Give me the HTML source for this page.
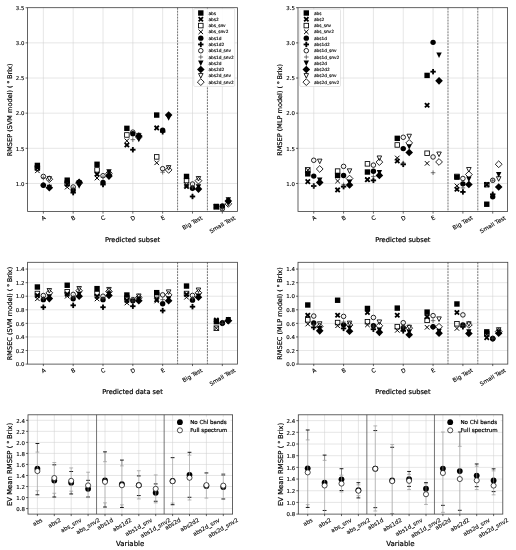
<!DOCTYPE html>
<html lang="en">
<head>
<meta charset="utf-8">
<title>Figure</title>
<style>
html,body{margin:0;padding:0;background:#fff;}
body{width:516px;height:550px;overflow:hidden;}
svg{display:block;}
svg text{font-family:"DejaVu Sans", "Liberation Sans", sans-serif;fill:#000;stroke:#000;stroke-width:0.19px;}
</style>
</head>
<body>
<svg width="516" height="550" viewBox="0 0 516 550">
<rect width="516" height="550" fill="#fff"/>
<path d="M43.35 7.7V211.6M73.18 7.7V211.6M103.01 7.7V211.6M132.84 7.7V211.6M162.67 7.7V211.6M192.5 7.7V211.6M222.33 7.7V211.6M27.6 183.48H237.5M27.6 148.32H237.5M27.6 113.17H237.5M27.6 78.01H237.5M27.6 42.86H237.5" stroke="#d2d2d2" stroke-width="0.55" fill="none"/>
<path d="M177.58 7.7V211.6" stroke="#3a3a3a" stroke-width="0.7" stroke-dasharray="2.05 0.9" fill="none"/>
<path d="M207.41 7.7V211.6" stroke="#3a3a3a" stroke-width="0.7" stroke-dasharray="2.05 0.9" fill="none"/>
<rect x="34.68" y="162.71" width="5.4" height="5.4" fill="#000"/>
<rect x="64.51" y="177.47" width="5.4" height="5.4" fill="#000"/>
<rect x="94.34" y="161.58" width="5.4" height="5.4" fill="#000"/>
<rect x="124.17" y="125.65" width="5.4" height="5.4" fill="#000"/>
<rect x="154" y="112.36" width="5.4" height="5.4" fill="#000"/>
<rect x="183.83" y="173.74" width="5.4" height="5.4" fill="#000"/>
<rect x="213.66" y="203.77" width="5.4" height="5.4" fill="#000"/>
<g transform="translate(37.38 167.66) rotate(45)"><rect x="-3.08" y="-0.92" width="6.16" height="1.84" fill="#000"/><rect x="-0.92" y="-3.08" width="1.84" height="6.16" fill="#000"/></g>
<g transform="translate(67.21 184.18) rotate(45)"><rect x="-3.08" y="-0.92" width="6.16" height="1.84" fill="#000"/><rect x="-0.92" y="-3.08" width="1.84" height="6.16" fill="#000"/></g>
<g transform="translate(97.04 174.34) rotate(45)"><rect x="-3.08" y="-0.92" width="6.16" height="1.84" fill="#000"/><rect x="-0.92" y="-3.08" width="1.84" height="6.16" fill="#000"/></g>
<g transform="translate(126.87 145.02) rotate(45)"><rect x="-3.08" y="-0.92" width="6.16" height="1.84" fill="#000"/><rect x="-0.92" y="-3.08" width="1.84" height="6.16" fill="#000"/></g>
<g transform="translate(156.7 127.93) rotate(45)"><rect x="-3.08" y="-0.92" width="6.16" height="1.84" fill="#000"/><rect x="-0.92" y="-3.08" width="1.84" height="6.16" fill="#000"/></g>
<g transform="translate(186.53 186.43) rotate(45)"><rect x="-3.08" y="-0.92" width="6.16" height="1.84" fill="#000"/><rect x="-0.92" y="-3.08" width="1.84" height="6.16" fill="#000"/></g>
<g transform="translate(216.36 206.54) rotate(45)"><rect x="-3.08" y="-0.92" width="6.16" height="1.84" fill="#000"/><rect x="-0.92" y="-3.08" width="1.84" height="6.16" fill="#000"/></g>
<rect x="35.11" y="165.73" width="4.55" height="4.55" fill="none" stroke="#000" stroke-width="0.85"/>
<rect x="64.94" y="180.85" width="4.55" height="4.55" fill="none" stroke="#000" stroke-width="0.85"/>
<rect x="94.77" y="167.63" width="4.55" height="4.55" fill="none" stroke="#000" stroke-width="0.85"/>
<rect x="124.6" y="132.69" width="4.55" height="4.55" fill="none" stroke="#000" stroke-width="0.85"/>
<rect x="154.43" y="154.62" width="4.55" height="4.55" fill="none" stroke="#000" stroke-width="0.85"/>
<rect x="184.26" y="178.25" width="4.55" height="4.55" fill="none" stroke="#000" stroke-width="0.85"/>
<rect x="214.09" y="204.54" width="4.55" height="4.55" fill="none" stroke="#000" stroke-width="0.85"/>
<path d="M35.12 168.55L39.65 173.09M35.12 173.09L39.65 168.55" stroke="#000" stroke-width="1" fill="none"/>
<path d="M64.95 184.86L69.48 189.4M64.95 189.4L69.48 184.86" stroke="#000" stroke-width="1" fill="none"/>
<path d="M94.78 175.79L99.31 180.33M94.78 180.33L99.31 175.79" stroke="#000" stroke-width="1" fill="none"/>
<path d="M124.61 138.53L129.14 143.07M124.61 143.07L129.14 138.53" stroke="#000" stroke-width="1" fill="none"/>
<path d="M154.44 160.54L158.97 165.07M154.44 165.07L158.97 160.54" stroke="#000" stroke-width="1" fill="none"/>
<path d="M184.27 182.61L188.8 187.15M184.27 187.15L188.8 182.61" stroke="#000" stroke-width="1" fill="none"/>
<path d="M214.1 204.76L218.63 209.3M214.1 209.3L218.63 204.76" stroke="#000" stroke-width="1" fill="none"/>
<circle cx="43.35" cy="185.16" r="2.7" fill="#000"/>
<circle cx="73.18" cy="190.09" r="2.7" fill="#000"/>
<circle cx="103.01" cy="182.42" r="2.7" fill="#000"/>
<circle cx="132.84" cy="133.77" r="2.7" fill="#000"/>
<circle cx="162.67" cy="130.18" r="2.7" fill="#000"/>
<circle cx="192.5" cy="188.19" r="2.7" fill="#000"/>
<circle cx="222.33" cy="205.98" r="2.7" fill="#000"/>
<rect x="40.65" y="184.32" width="5.4" height="1.84" fill="#000"/><rect x="42.43" y="182.53" width="1.84" height="5.4" fill="#000"/>
<rect x="70.48" y="191.7" width="5.4" height="1.84" fill="#000"/><rect x="72.26" y="189.92" width="1.84" height="5.4" fill="#000"/>
<rect x="100.31" y="183.61" width="5.4" height="1.84" fill="#000"/><rect x="102.09" y="181.83" width="1.84" height="5.4" fill="#000"/>
<rect x="130.14" y="148.81" width="5.4" height="1.84" fill="#000"/><rect x="131.92" y="147.03" width="1.84" height="5.4" fill="#000"/>
<rect x="159.97" y="130.88" width="5.4" height="1.84" fill="#000"/><rect x="161.75" y="129.1" width="1.84" height="5.4" fill="#000"/>
<rect x="189.8" y="195.57" width="5.4" height="1.84" fill="#000"/><rect x="191.58" y="193.78" width="1.84" height="5.4" fill="#000"/>
<rect x="219.63" y="205.76" width="5.4" height="1.84" fill="#000"/><rect x="221.41" y="203.98" width="1.84" height="5.4" fill="#000"/>
<circle cx="43.35" cy="176.44" r="2.28" fill="none" stroke="#000" stroke-width="0.85"/>
<circle cx="73.18" cy="186.99" r="2.28" fill="none" stroke="#000" stroke-width="0.85"/>
<circle cx="103.01" cy="175.74" r="2.28" fill="none" stroke="#000" stroke-width="0.85"/>
<circle cx="132.84" cy="132.15" r="2.28" fill="none" stroke="#000" stroke-width="0.85"/>
<circle cx="162.67" cy="168.71" r="2.28" fill="none" stroke="#000" stroke-width="0.85"/>
<circle cx="192.5" cy="184.04" r="2.28" fill="none" stroke="#000" stroke-width="0.85"/>
<circle cx="222.33" cy="208.79" r="2.28" fill="none" stroke="#000" stroke-width="0.85"/>
<path d="M41.05 177.85L45.65 177.85M43.35 175.56L43.35 180.15" stroke="#383838" stroke-width="0.68" fill="none"/>
<path d="M70.89 188.4L75.48 188.4M73.18 186.1L73.18 190.69" stroke="#383838" stroke-width="0.68" fill="none"/>
<path d="M100.71 177.15L105.3 177.15M103.01 174.85L103.01 179.44" stroke="#383838" stroke-width="0.68" fill="none"/>
<path d="M130.55 139.67L135.13 139.67M132.84 137.38L132.84 141.97" stroke="#383838" stroke-width="0.68" fill="none"/>
<path d="M160.38 172.23L164.96 172.23M162.67 169.93L162.67 174.52" stroke="#383838" stroke-width="0.68" fill="none"/>
<path d="M190.2 186.99L194.79 186.99M192.5 184.7L192.5 189.29" stroke="#383838" stroke-width="0.68" fill="none"/>
<path d="M220.03 208.79L224.62 208.79M222.33 206.49L222.33 211.08" stroke="#383838" stroke-width="0.68" fill="none"/>
<path d="M46.62 184.64L52.02 184.64L49.32 190.04Z" fill="#000"/>
<path d="M76.45 183.24L81.85 183.24L79.15 188.64Z" fill="#000"/>
<path d="M106.28 169.24L111.68 169.24L108.98 174.64Z" fill="#000"/>
<path d="M136.11 136.83L141.51 136.83L138.81 142.23Z" fill="#000"/>
<path d="M165.94 115.39L171.34 115.39L168.64 120.79Z" fill="#000"/>
<path d="M195.77 184.29L201.17 184.29L198.47 189.69Z" fill="#000"/>
<path d="M225.6 197.16L231 197.16L228.3 202.56Z" fill="#000"/>
<path d="M49.32 183.89L53.12 187.69L49.32 191.5L45.51 187.69Z" fill="#000"/>
<path d="M79.15 178.47L82.95 182.28L79.15 186.09L75.34 182.28Z" fill="#000"/>
<path d="M108.98 172.29L112.78 176.09L108.98 179.9L105.17 176.09Z" fill="#000"/>
<path d="M138.81 132.14L142.61 135.95L138.81 139.75L135 135.95Z" fill="#000"/>
<path d="M168.64 111.26L172.44 115.06L168.64 118.87L164.83 115.06Z" fill="#000"/>
<path d="M198.47 185.29L202.27 189.1L198.47 192.91L194.66 189.1Z" fill="#000"/>
<path d="M228.3 197.25L232.1 201.05L228.3 204.86L224.49 201.05Z" fill="#000"/>
<path d="M47.04 176.63L51.59 176.63L49.32 181.18Z" fill="none" stroke="#000" stroke-width="0.85" stroke-linejoin="miter"/>
<path d="M76.87 180.5L81.42 180.5L79.15 185.05Z" fill="none" stroke="#000" stroke-width="0.85" stroke-linejoin="miter"/>
<path d="M106.7 172.06L111.25 172.06L108.98 176.61Z" fill="none" stroke="#000" stroke-width="0.85" stroke-linejoin="miter"/>
<path d="M136.53 133.39L141.08 133.39L138.81 137.94Z" fill="none" stroke="#000" stroke-width="0.85" stroke-linejoin="miter"/>
<path d="M166.36 165.59L170.91 165.59L168.64 170.14Z" fill="none" stroke="#000" stroke-width="0.85" stroke-linejoin="miter"/>
<path d="M196.19 176.49L200.74 176.49L198.47 181.04Z" fill="none" stroke="#000" stroke-width="0.85" stroke-linejoin="miter"/>
<path d="M226.02 201.24L230.57 201.24L228.3 205.79Z" fill="none" stroke="#000" stroke-width="0.85" stroke-linejoin="miter"/>
<path d="M49.32 175.88L52.7 179.26L49.32 182.64L45.93 179.26Z" fill="none" stroke="#000" stroke-width="0.85"/>
<path d="M79.15 179.74L82.53 183.12L79.15 186.51L75.76 183.12Z" fill="none" stroke="#000" stroke-width="0.85"/>
<path d="M108.98 170.25L112.36 173.63L108.98 177.01L105.59 173.63Z" fill="none" stroke="#000" stroke-width="0.85"/>
<path d="M138.81 133.69L142.19 137.07L138.81 140.45L135.42 137.07Z" fill="none" stroke="#000" stroke-width="0.85"/>
<path d="M168.64 166.52L172.02 169.91L168.64 173.29L165.25 169.91Z" fill="none" stroke="#000" stroke-width="0.85"/>
<path d="M198.47 177.28L201.85 180.66L198.47 184.05L195.08 180.66Z" fill="none" stroke="#000" stroke-width="0.85"/>
<path d="M228.3 200.48L231.68 203.87L228.3 207.25L224.91 203.87Z" fill="none" stroke="#000" stroke-width="0.85"/>
<rect x="193.8" y="8.7" width="40.9" height="77.7" rx="1.1" fill="#fff" fill-opacity="0.9" stroke="#ccc" stroke-width="0.5"/>
<rect x="198.1" y="10.3" width="5.4" height="5.4" fill="#000"/>
<text x="208.4" y="14.55" font-size="4.3" text-anchor="start" style="stroke-width:0.15px">abs</text>
<g transform="translate(200.8 19.29) rotate(45)"><rect x="-3.08" y="-0.92" width="6.16" height="1.84" fill="#000"/><rect x="-0.92" y="-3.08" width="1.84" height="6.16" fill="#000"/></g>
<text x="208.4" y="20.83" font-size="4.3" text-anchor="start" style="stroke-width:0.15px">abs2</text>
<rect x="198.53" y="23.3" width="4.55" height="4.55" fill="none" stroke="#000" stroke-width="0.85"/>
<text x="208.4" y="27.12" font-size="4.3" text-anchor="start" style="stroke-width:0.15px">abs_snv</text>
<path d="M198.53 29.59L203.07 34.12M198.53 34.12L203.07 29.59" stroke="#000" stroke-width="1" fill="none"/>
<text x="208.4" y="33.4" font-size="4.3" text-anchor="start" style="stroke-width:0.15px">abs_snv2</text>
<circle cx="200.8" cy="38.14" r="2.7" fill="#000"/>
<text x="208.4" y="39.69" font-size="4.3" text-anchor="start" style="stroke-width:0.15px">abs1d</text>
<rect x="198.1" y="43.51" width="5.4" height="1.84" fill="#000"/><rect x="199.88" y="41.72" width="1.84" height="5.4" fill="#000"/>
<text x="208.4" y="45.97" font-size="4.3" text-anchor="start" style="stroke-width:0.15px">abs1d2</text>
<circle cx="200.8" cy="50.71" r="2.28" fill="none" stroke="#000" stroke-width="0.85"/>
<text x="208.4" y="52.26" font-size="4.3" text-anchor="start" style="stroke-width:0.15px">abs1d_snv</text>
<path d="M198.51 57L203.09 57M200.8 54.7L200.8 59.29" stroke="#383838" stroke-width="0.68" fill="none"/>
<text x="208.4" y="58.54" font-size="4.3" text-anchor="start" style="stroke-width:0.15px">abs1d_snv2</text>
<path d="M198.1 60.58L203.5 60.58L200.8 65.98Z" fill="#000"/>
<text x="208.4" y="64.83" font-size="4.3" text-anchor="start" style="stroke-width:0.15px">abs2d</text>
<path d="M200.8 65.76L204.61 69.56L200.8 73.37L196.99 69.56Z" fill="#000"/>
<text x="208.4" y="71.11" font-size="4.3" text-anchor="start" style="stroke-width:0.15px">abs2d2</text>
<path d="M198.53 73.57L203.08 73.57L200.8 78.12Z" fill="none" stroke="#000" stroke-width="0.85" stroke-linejoin="miter"/>
<text x="208.4" y="77.4" font-size="4.3" text-anchor="start" style="stroke-width:0.15px">abs2d_snv</text>
<path d="M200.8 78.75L204.18 82.14L200.8 85.52L197.42 82.14Z" fill="none" stroke="#000" stroke-width="0.85"/>
<text x="208.4" y="83.68" font-size="4.3" text-anchor="start" style="stroke-width:0.15px">abs2d_snv2</text>
<rect x="27.6" y="7.7" width="209.9" height="203.9" fill="none" stroke="#3c3c3c" stroke-width="0.8"/>
<path d="M43.35 211.6v2M73.18 211.6v2M103.01 211.6v2M132.84 211.6v2M162.67 211.6v2M192.5 211.6v2M222.33 211.6v2M27.6 183.48h-2M27.6 148.32h-2M27.6 113.17h-2M27.6 78.01h-2M27.6 42.86h-2M27.6 7.7h-2" stroke="#151515" stroke-width="0.65" fill="none"/>
<text x="24.45" y="185.67" font-size="5.4" text-anchor="end" style="stroke-width:0.12px">1.0</text>
<text x="24.45" y="150.51" font-size="5.4" text-anchor="end" style="stroke-width:0.12px">1.5</text>
<text x="24.45" y="115.36" font-size="5.4" text-anchor="end" style="stroke-width:0.12px">2.0</text>
<text x="24.45" y="80.2" font-size="5.4" text-anchor="end" style="stroke-width:0.12px">2.5</text>
<text x="24.45" y="45.05" font-size="5.4" text-anchor="end" style="stroke-width:0.12px">3.0</text>
<text x="24.45" y="9.89" font-size="5.4" text-anchor="end" style="stroke-width:0.12px">3.5</text>
<text x="43.35" y="220.02" font-size="5.7" text-anchor="middle" style="stroke-width:0.12px" transform="rotate(-30 43.35 217.85)">A</text>
<text x="73.18" y="220.02" font-size="5.7" text-anchor="middle" style="stroke-width:0.12px" transform="rotate(-30 73.18 217.85)">B</text>
<text x="103.01" y="220.04" font-size="5.7" text-anchor="middle" style="stroke-width:0.12px" transform="rotate(-30 103.01 217.87)">C</text>
<text x="132.84" y="220.14" font-size="5.7" text-anchor="middle" style="stroke-width:0.12px" transform="rotate(-30 132.84 217.97)">D</text>
<text x="162.67" y="219.94" font-size="5.7" text-anchor="middle" style="stroke-width:0.12px" transform="rotate(-30 162.67 217.78)">E</text>
<text x="192.5" y="224.74" font-size="5.7" text-anchor="middle" style="stroke-width:0.12px" transform="rotate(-30 192.5 223.2)">Big Test</text>
<text x="222.33" y="226.5" font-size="5.7" text-anchor="middle" style="stroke-width:0.12px" transform="rotate(-30 222.33 224.34)">Small Test</text>
<text x="11.6" y="109.95" font-size="6.55" text-anchor="middle" transform="rotate(-90 11.6 109.95)">RMSEP (SVM model) (<tspan dx="1.6">°</tspan><tspan dx="-0.6"> Brix)</tspan></text>
<text x="132.55" y="241.9" font-size="6.65" text-anchor="middle">Predicted subset</text>
<path d="M313.75 7.7V211.6M343.58 7.7V211.6M373.41 7.7V211.6M403.24 7.7V211.6M433.07 7.7V211.6M462.9 7.7V211.6M492.73 7.7V211.6M298 183.48H507.6M298 148.32H507.6M298 113.17H507.6M298 78.01H507.6M298 42.86H507.6" stroke="#d2d2d2" stroke-width="0.55" fill="none"/>
<path d="M447.99 7.7V211.6" stroke="#3a3a3a" stroke-width="0.7" stroke-dasharray="2.05 0.9" fill="none"/>
<path d="M477.81 7.7V211.6" stroke="#3a3a3a" stroke-width="0.7" stroke-dasharray="2.05 0.9" fill="none"/>
<rect x="305.08" y="171.14" width="5.4" height="5.4" fill="#000"/>
<rect x="334.91" y="172.76" width="5.4" height="5.4" fill="#000"/>
<rect x="364.74" y="169.32" width="5.4" height="5.4" fill="#000"/>
<rect x="394.57" y="135.64" width="5.4" height="5.4" fill="#000"/>
<rect x="424.4" y="72.71" width="5.4" height="5.4" fill="#000"/>
<rect x="454.23" y="174.45" width="5.4" height="5.4" fill="#000"/>
<rect x="484.06" y="201.52" width="5.4" height="5.4" fill="#000"/>
<g transform="translate(307.78 181.65) rotate(45)"><rect x="-3.08" y="-0.92" width="6.16" height="1.84" fill="#000"/><rect x="-0.92" y="-3.08" width="1.84" height="6.16" fill="#000"/></g>
<g transform="translate(337.61 189.94) rotate(45)"><rect x="-3.08" y="-0.92" width="6.16" height="1.84" fill="#000"/><rect x="-0.92" y="-3.08" width="1.84" height="6.16" fill="#000"/></g>
<g transform="translate(367.44 179.68) rotate(45)"><rect x="-3.08" y="-0.92" width="6.16" height="1.84" fill="#000"/><rect x="-0.92" y="-3.08" width="1.84" height="6.16" fill="#000"/></g>
<g transform="translate(397.27 160.98) rotate(45)"><rect x="-3.08" y="-0.92" width="6.16" height="1.84" fill="#000"/><rect x="-0.92" y="-3.08" width="1.84" height="6.16" fill="#000"/></g>
<g transform="translate(427.1 105.29) rotate(45)"><rect x="-3.08" y="-0.92" width="6.16" height="1.84" fill="#000"/><rect x="-0.92" y="-3.08" width="1.84" height="6.16" fill="#000"/></g>
<g transform="translate(456.93 189.24) rotate(45)"><rect x="-3.08" y="-0.92" width="6.16" height="1.84" fill="#000"/><rect x="-0.92" y="-3.08" width="1.84" height="6.16" fill="#000"/></g>
<g transform="translate(486.76 184.67) rotate(45)"><rect x="-3.08" y="-0.92" width="6.16" height="1.84" fill="#000"/><rect x="-0.92" y="-3.08" width="1.84" height="6.16" fill="#000"/></g>
<rect x="305.51" y="167.63" width="4.55" height="4.55" fill="none" stroke="#000" stroke-width="0.85"/>
<rect x="335.34" y="168.83" width="4.55" height="4.55" fill="none" stroke="#000" stroke-width="0.85"/>
<rect x="365.17" y="161.58" width="4.55" height="4.55" fill="none" stroke="#000" stroke-width="0.85"/>
<rect x="395" y="142.67" width="4.55" height="4.55" fill="none" stroke="#000" stroke-width="0.85"/>
<rect x="424.83" y="150.97" width="4.55" height="4.55" fill="none" stroke="#000" stroke-width="0.85"/>
<rect x="454.66" y="174.17" width="4.55" height="4.55" fill="none" stroke="#000" stroke-width="0.85"/>
<rect x="484.49" y="182.4" width="4.55" height="4.55" fill="none" stroke="#000" stroke-width="0.85"/>
<path d="M305.52 167.85L310.05 172.38M305.52 172.38L310.05 167.85" stroke="#000" stroke-width="1" fill="none"/>
<path d="M335.35 178.75L339.88 183.28M335.35 183.28L339.88 178.75" stroke="#000" stroke-width="1" fill="none"/>
<path d="M365.18 177.13L369.71 181.67M365.18 181.67L369.71 177.13" stroke="#000" stroke-width="1" fill="none"/>
<path d="M395.01 155.69L399.54 160.22M395.01 160.22L399.54 155.69" stroke="#000" stroke-width="1" fill="none"/>
<path d="M424.84 161.1L429.37 165.64M424.84 165.64L429.37 161.1" stroke="#000" stroke-width="1" fill="none"/>
<path d="M454.67 183.6L459.2 188.13M454.67 188.13L459.2 183.6" stroke="#000" stroke-width="1" fill="none"/>
<path d="M484.5 182.4L489.03 186.94M484.5 186.94L489.03 182.4" stroke="#000" stroke-width="1" fill="none"/>
<circle cx="313.75" cy="176.09" r="2.7" fill="#000"/>
<circle cx="343.58" cy="175.46" r="2.7" fill="#000"/>
<circle cx="373.41" cy="171.24" r="2.7" fill="#000"/>
<circle cx="403.24" cy="148.6" r="2.7" fill="#000"/>
<circle cx="433.07" cy="42.36" r="2.7" fill="#000"/>
<circle cx="462.9" cy="183.83" r="2.7" fill="#000"/>
<circle cx="492.73" cy="196.83" r="2.7" fill="#000"/>
<rect x="311.05" y="185.09" width="5.4" height="1.84" fill="#000"/><rect x="312.83" y="183.31" width="1.84" height="5.4" fill="#000"/>
<rect x="340.88" y="185.72" width="5.4" height="1.84" fill="#000"/><rect x="342.66" y="183.94" width="1.84" height="5.4" fill="#000"/>
<rect x="370.71" y="179.46" width="5.4" height="1.84" fill="#000"/><rect x="372.49" y="177.68" width="1.84" height="5.4" fill="#000"/>
<rect x="400.54" y="163.43" width="5.4" height="1.84" fill="#000"/><rect x="402.32" y="161.65" width="1.84" height="5.4" fill="#000"/>
<rect x="430.37" y="70.76" width="5.4" height="1.84" fill="#000"/><rect x="432.15" y="68.98" width="1.84" height="5.4" fill="#000"/>
<rect x="460.2" y="191" width="5.4" height="1.84" fill="#000"/><rect x="461.98" y="189.21" width="1.84" height="5.4" fill="#000"/>
<rect x="490.03" y="193.39" width="5.4" height="1.84" fill="#000"/><rect x="491.81" y="191.6" width="1.84" height="5.4" fill="#000"/>
<circle cx="313.75" cy="160.27" r="2.28" fill="none" stroke="#000" stroke-width="0.85"/>
<circle cx="343.58" cy="166.39" r="2.28" fill="none" stroke="#000" stroke-width="0.85"/>
<circle cx="373.41" cy="165.12" r="2.28" fill="none" stroke="#000" stroke-width="0.85"/>
<circle cx="403.24" cy="137.28" r="2.28" fill="none" stroke="#000" stroke-width="0.85"/>
<circle cx="433.07" cy="156.97" r="2.28" fill="none" stroke="#000" stroke-width="0.85"/>
<circle cx="462.9" cy="178.48" r="2.28" fill="none" stroke="#000" stroke-width="0.85"/>
<circle cx="492.73" cy="180.31" r="2.28" fill="none" stroke="#000" stroke-width="0.85"/>
<path d="M311.45 185.94L316.05 185.94M313.75 183.64L313.75 188.23" stroke="#383838" stroke-width="0.68" fill="none"/>
<path d="M341.28 184.88L345.88 184.88M343.58 182.59L343.58 187.18" stroke="#383838" stroke-width="0.68" fill="none"/>
<path d="M371.11 176.44L375.7 176.44M373.41 174.15L373.41 178.74" stroke="#383838" stroke-width="0.68" fill="none"/>
<path d="M400.94 163.09L405.54 163.09M403.24 160.79L403.24 165.38" stroke="#383838" stroke-width="0.68" fill="none"/>
<path d="M430.77 172.72L435.37 172.72M433.07 170.42L433.07 175.01" stroke="#383838" stroke-width="0.68" fill="none"/>
<path d="M460.6 187.91L465.19 187.91M462.9 185.61L462.9 190.2" stroke="#383838" stroke-width="0.68" fill="none"/>
<path d="M490.44 180.31L495.03 180.31M492.73 178.02L492.73 182.61" stroke="#383838" stroke-width="0.68" fill="none"/>
<path d="M317.02 177.61L322.42 177.61L319.72 183.01Z" fill="#000"/>
<path d="M346.85 179.58L352.25 179.58L349.55 184.98Z" fill="#000"/>
<path d="M376.68 170.09L382.08 170.09L379.38 175.49Z" fill="#000"/>
<path d="M406.51 144.21L411.91 144.21L409.21 149.61Z" fill="#000"/>
<path d="M436.34 52.53L441.74 52.53L439.04 57.93Z" fill="#000"/>
<path d="M466.17 176.49L471.57 176.49L468.87 181.89Z" fill="#000"/>
<path d="M496 172.06L501.4 172.06L498.7 177.46Z" fill="#000"/>
<path d="M319.72 178.61L323.52 182.42L319.72 186.23L315.91 182.42Z" fill="#000"/>
<path d="M349.55 181.15L353.35 184.95L349.55 188.76L345.74 184.95Z" fill="#000"/>
<path d="M379.38 171.58L383.18 175.39L379.38 179.2L375.57 175.39Z" fill="#000"/>
<path d="M409.21 148.73L413.01 152.54L409.21 156.35L405.4 152.54Z" fill="#000"/>
<path d="M439.04 77.02L442.84 80.82L439.04 84.63L435.23 80.82Z" fill="#000"/>
<path d="M468.87 180.72L472.67 184.53L468.87 188.34L465.06 184.53Z" fill="#000"/>
<path d="M498.7 183.25L502.5 187.06L498.7 190.87L494.89 187.06Z" fill="#000"/>
<path d="M317.44 159.12L321.99 159.12L319.72 163.67Z" fill="none" stroke="#000" stroke-width="0.85" stroke-linejoin="miter"/>
<path d="M347.27 168.83L351.82 168.83L349.55 173.38Z" fill="none" stroke="#000" stroke-width="0.85" stroke-linejoin="miter"/>
<path d="M377.1 155.96L381.65 155.96L379.38 160.51Z" fill="none" stroke="#000" stroke-width="0.85" stroke-linejoin="miter"/>
<path d="M406.93 134.23L411.48 134.23L409.21 138.78Z" fill="none" stroke="#000" stroke-width="0.85" stroke-linejoin="miter"/>
<path d="M436.76 152.02L441.31 152.02L439.04 156.57Z" fill="none" stroke="#000" stroke-width="0.85" stroke-linejoin="miter"/>
<path d="M466.59 167.49L471.14 167.49L468.87 172.04Z" fill="none" stroke="#000" stroke-width="0.85" stroke-linejoin="miter"/>
<path d="M496.42 176.7L500.97 176.7L498.7 181.25Z" fill="none" stroke="#000" stroke-width="0.85" stroke-linejoin="miter"/>
<path d="M319.72 165.61L323.1 168.99L319.72 172.37L316.33 168.99Z" fill="none" stroke="#000" stroke-width="0.85"/>
<path d="M349.55 175.17L352.93 178.55L349.55 181.94L346.16 178.55Z" fill="none" stroke="#000" stroke-width="0.85"/>
<path d="M379.38 158.72L382.76 162.1L379.38 165.48L375.99 162.1Z" fill="none" stroke="#000" stroke-width="0.85"/>
<path d="M409.21 139.52L412.59 142.91L409.21 146.29L405.82 142.91Z" fill="none" stroke="#000" stroke-width="0.85"/>
<path d="M439.04 158.58L442.42 161.96L439.04 165.34L435.65 161.96Z" fill="none" stroke="#000" stroke-width="0.85"/>
<path d="M468.87 171.09L472.25 174.48L468.87 177.86L465.48 174.48Z" fill="none" stroke="#000" stroke-width="0.85"/>
<path d="M498.7 160.9L502.08 164.28L498.7 167.66L495.31 164.28Z" fill="none" stroke="#000" stroke-width="0.85"/>
<rect x="299.8" y="9.3" width="40.7" height="77.2" rx="1.1" fill="#fff" fill-opacity="0.9" stroke="#ccc" stroke-width="0.5"/>
<rect x="303.6" y="10.3" width="5.4" height="5.4" fill="#000"/>
<text x="313.9" y="14.55" font-size="4.3" text-anchor="start" style="stroke-width:0.15px">abs</text>
<g transform="translate(306.3 19.29) rotate(45)"><rect x="-3.08" y="-0.92" width="6.16" height="1.84" fill="#000"/><rect x="-0.92" y="-3.08" width="1.84" height="6.16" fill="#000"/></g>
<text x="313.9" y="20.83" font-size="4.3" text-anchor="start" style="stroke-width:0.15px">abs2</text>
<rect x="304.03" y="23.3" width="4.55" height="4.55" fill="none" stroke="#000" stroke-width="0.85"/>
<text x="313.9" y="27.12" font-size="4.3" text-anchor="start" style="stroke-width:0.15px">abs_snv</text>
<path d="M304.03 29.59L308.57 34.12M304.03 34.12L308.57 29.59" stroke="#000" stroke-width="1" fill="none"/>
<text x="313.9" y="33.4" font-size="4.3" text-anchor="start" style="stroke-width:0.15px">abs_snv2</text>
<circle cx="306.3" cy="38.14" r="2.7" fill="#000"/>
<text x="313.9" y="39.69" font-size="4.3" text-anchor="start" style="stroke-width:0.15px">abs1d</text>
<rect x="303.6" y="43.51" width="5.4" height="1.84" fill="#000"/><rect x="305.38" y="41.72" width="1.84" height="5.4" fill="#000"/>
<text x="313.9" y="45.97" font-size="4.3" text-anchor="start" style="stroke-width:0.15px">abs1d2</text>
<circle cx="306.3" cy="50.71" r="2.28" fill="none" stroke="#000" stroke-width="0.85"/>
<text x="313.9" y="52.26" font-size="4.3" text-anchor="start" style="stroke-width:0.15px">abs1d_snv</text>
<path d="M304 57L308.6 57M306.3 54.7L306.3 59.29" stroke="#383838" stroke-width="0.68" fill="none"/>
<text x="313.9" y="58.54" font-size="4.3" text-anchor="start" style="stroke-width:0.15px">abs1d_snv2</text>
<path d="M303.6 60.58L309 60.58L306.3 65.98Z" fill="#000"/>
<text x="313.9" y="64.83" font-size="4.3" text-anchor="start" style="stroke-width:0.15px">abs2d</text>
<path d="M306.3 65.76L310.11 69.56L306.3 73.37L302.49 69.56Z" fill="#000"/>
<text x="313.9" y="71.11" font-size="4.3" text-anchor="start" style="stroke-width:0.15px">abs2d2</text>
<path d="M304.03 73.57L308.57 73.57L306.3 78.12Z" fill="none" stroke="#000" stroke-width="0.85" stroke-linejoin="miter"/>
<text x="313.9" y="77.4" font-size="4.3" text-anchor="start" style="stroke-width:0.15px">abs2d_snv</text>
<path d="M306.3 78.75L309.68 82.14L306.3 85.52L302.92 82.14Z" fill="none" stroke="#000" stroke-width="0.85"/>
<text x="313.9" y="83.68" font-size="4.3" text-anchor="start" style="stroke-width:0.15px">abs2d_snv2</text>
<rect x="298" y="7.7" width="209.6" height="203.9" fill="none" stroke="#3c3c3c" stroke-width="0.8"/>
<path d="M313.75 211.6v2M343.58 211.6v2M373.41 211.6v2M403.24 211.6v2M433.07 211.6v2M462.9 211.6v2M492.73 211.6v2M298 183.48h-2M298 148.32h-2M298 113.17h-2M298 78.01h-2M298 42.86h-2M298 7.7h-2" stroke="#151515" stroke-width="0.65" fill="none"/>
<text x="294.85" y="185.67" font-size="5.4" text-anchor="end" style="stroke-width:0.12px">1.0</text>
<text x="294.85" y="150.51" font-size="5.4" text-anchor="end" style="stroke-width:0.12px">1.5</text>
<text x="294.85" y="115.36" font-size="5.4" text-anchor="end" style="stroke-width:0.12px">2.0</text>
<text x="294.85" y="80.2" font-size="5.4" text-anchor="end" style="stroke-width:0.12px">2.5</text>
<text x="294.85" y="45.05" font-size="5.4" text-anchor="end" style="stroke-width:0.12px">3.0</text>
<text x="294.85" y="9.89" font-size="5.4" text-anchor="end" style="stroke-width:0.12px">3.5</text>
<text x="313.75" y="220.02" font-size="5.7" text-anchor="middle" style="stroke-width:0.12px" transform="rotate(-30 313.75 217.85)">A</text>
<text x="343.58" y="220.02" font-size="5.7" text-anchor="middle" style="stroke-width:0.12px" transform="rotate(-30 343.58 217.85)">B</text>
<text x="373.41" y="220.04" font-size="5.7" text-anchor="middle" style="stroke-width:0.12px" transform="rotate(-30 373.41 217.87)">C</text>
<text x="403.24" y="220.14" font-size="5.7" text-anchor="middle" style="stroke-width:0.12px" transform="rotate(-30 403.24 217.97)">D</text>
<text x="433.07" y="219.94" font-size="5.7" text-anchor="middle" style="stroke-width:0.12px" transform="rotate(-30 433.07 217.78)">E</text>
<text x="462.9" y="224.74" font-size="5.7" text-anchor="middle" style="stroke-width:0.12px" transform="rotate(-30 462.9 223.2)">Big Test</text>
<text x="492.73" y="226.5" font-size="5.7" text-anchor="middle" style="stroke-width:0.12px" transform="rotate(-30 492.73 224.34)">Small Test</text>
<text x="282" y="109.95" font-size="6.55" text-anchor="middle" transform="rotate(-90 282 109.95)">RMSEP (MLP model) (<tspan dx="1.6">°</tspan><tspan dx="-0.6"> Brix)</tspan></text>
<text x="402.8" y="241.9" font-size="6.65" text-anchor="middle">Predicted subset</text>
<path d="M43.35 262.3V364.1M73.18 262.3V364.1M103.01 262.3V364.1M132.84 262.3V364.1M162.67 262.3V364.1M192.5 262.3V364.1M222.33 262.3V364.1M27.6 350.53H237.4M27.6 336.95H237.4M27.6 323.38H237.4M27.6 309.81H237.4M27.6 296.23H237.4M27.6 282.66H237.4M27.6 269.09H237.4" stroke="#d2d2d2" stroke-width="0.55" fill="none"/>
<path d="M177.58 262.3V364.1" stroke="#3a3a3a" stroke-width="0.7" stroke-dasharray="2.05 0.9" fill="none"/>
<path d="M207.41 262.3V364.1" stroke="#3a3a3a" stroke-width="0.7" stroke-dasharray="2.05 0.9" fill="none"/>
<rect x="34.68" y="284.3" width="5.4" height="5.4" fill="#000"/>
<rect x="64.51" y="282.54" width="5.4" height="5.4" fill="#000"/>
<rect x="94.34" y="285.93" width="5.4" height="5.4" fill="#000"/>
<rect x="124.17" y="292.31" width="5.4" height="5.4" fill="#000"/>
<rect x="154" y="289.94" width="5.4" height="5.4" fill="#000"/>
<rect x="183.83" y="283.35" width="5.4" height="5.4" fill="#000"/>
<rect x="213.66" y="318.98" width="5.4" height="5.4" fill="#000"/>
<g transform="translate(37.38 295.55) rotate(45)"><rect x="-3.08" y="-0.92" width="6.16" height="1.84" fill="#000"/><rect x="-0.92" y="-3.08" width="1.84" height="6.16" fill="#000"/></g>
<g transform="translate(67.21 294.2) rotate(45)"><rect x="-3.08" y="-0.92" width="6.16" height="1.84" fill="#000"/><rect x="-0.92" y="-3.08" width="1.84" height="6.16" fill="#000"/></g>
<g transform="translate(97.04 296.23) rotate(45)"><rect x="-3.08" y="-0.92" width="6.16" height="1.84" fill="#000"/><rect x="-0.92" y="-3.08" width="1.84" height="6.16" fill="#000"/></g>
<g transform="translate(126.87 300.31) rotate(45)"><rect x="-3.08" y="-0.92" width="6.16" height="1.84" fill="#000"/><rect x="-0.92" y="-3.08" width="1.84" height="6.16" fill="#000"/></g>
<g transform="translate(156.7 299.63) rotate(45)"><rect x="-3.08" y="-0.92" width="6.16" height="1.84" fill="#000"/><rect x="-0.92" y="-3.08" width="1.84" height="6.16" fill="#000"/></g>
<g transform="translate(186.53 294.54) rotate(45)"><rect x="-3.08" y="-0.92" width="6.16" height="1.84" fill="#000"/><rect x="-0.92" y="-3.08" width="1.84" height="6.16" fill="#000"/></g>
<g transform="translate(216.36 319.99) rotate(45)"><rect x="-3.08" y="-0.92" width="6.16" height="1.84" fill="#000"/><rect x="-0.92" y="-3.08" width="1.84" height="6.16" fill="#000"/></g>
<rect x="35.11" y="291.24" width="4.55" height="4.55" fill="none" stroke="#000" stroke-width="0.85"/>
<rect x="64.94" y="289.55" width="4.55" height="4.55" fill="none" stroke="#000" stroke-width="0.85"/>
<rect x="94.77" y="291.24" width="4.55" height="4.55" fill="none" stroke="#000" stroke-width="0.85"/>
<rect x="124.6" y="295.66" width="4.55" height="4.55" fill="none" stroke="#000" stroke-width="0.85"/>
<rect x="154.43" y="292.6" width="4.55" height="4.55" fill="none" stroke="#000" stroke-width="0.85"/>
<rect x="184.26" y="291.24" width="4.55" height="4.55" fill="none" stroke="#000" stroke-width="0.85"/>
<rect x="214.09" y="325.92" width="4.55" height="4.55" fill="none" stroke="#000" stroke-width="0.85"/>
<path d="M35.12 296.54L39.65 301.08M35.12 301.08L39.65 296.54" stroke="#000" stroke-width="1" fill="none"/>
<path d="M64.95 293.97L69.48 298.5M64.95 298.5L69.48 293.97" stroke="#000" stroke-width="1" fill="none"/>
<path d="M94.78 296.68L99.31 301.22M94.78 301.22L99.31 296.68" stroke="#000" stroke-width="1" fill="none"/>
<path d="M124.61 300.75L129.14 305.29M124.61 305.29L129.14 300.75" stroke="#000" stroke-width="1" fill="none"/>
<path d="M154.44 298.72L158.97 303.25M154.44 303.25L158.97 298.72" stroke="#000" stroke-width="1" fill="none"/>
<path d="M184.27 294.98L188.8 299.52M184.27 299.52L188.8 294.98" stroke="#000" stroke-width="1" fill="none"/>
<path d="M214.1 325.93L218.63 330.47M214.1 330.47L218.63 325.93" stroke="#000" stroke-width="1" fill="none"/>
<circle cx="43.35" cy="299.63" r="2.7" fill="#000"/>
<circle cx="73.18" cy="298.81" r="2.7" fill="#000"/>
<circle cx="103.01" cy="299.63" r="2.7" fill="#000"/>
<circle cx="132.84" cy="300.85" r="2.7" fill="#000"/>
<circle cx="162.67" cy="303.7" r="2.7" fill="#000"/>
<circle cx="192.5" cy="300.17" r="2.7" fill="#000"/>
<circle cx="222.33" cy="323.18" r="2.7" fill="#000"/>
<rect x="40.65" y="306.31" width="5.4" height="1.84" fill="#000"/><rect x="42.43" y="304.53" width="1.84" height="5.4" fill="#000"/>
<rect x="70.48" y="304.41" width="5.4" height="1.84" fill="#000"/><rect x="72.26" y="302.63" width="1.84" height="5.4" fill="#000"/>
<rect x="100.31" y="306.31" width="5.4" height="1.84" fill="#000"/><rect x="102.09" y="304.53" width="1.84" height="5.4" fill="#000"/>
<rect x="130.14" y="305.29" width="5.4" height="1.84" fill="#000"/><rect x="131.92" y="303.51" width="1.84" height="5.4" fill="#000"/>
<rect x="159.97" y="309.7" width="5.4" height="1.84" fill="#000"/><rect x="161.75" y="307.92" width="1.84" height="5.4" fill="#000"/>
<rect x="189.8" y="305.77" width="5.4" height="1.84" fill="#000"/><rect x="191.58" y="303.98" width="1.84" height="5.4" fill="#000"/>
<rect x="219.63" y="322.46" width="5.4" height="1.84" fill="#000"/><rect x="221.41" y="320.68" width="1.84" height="5.4" fill="#000"/>
<circle cx="43.35" cy="295.55" r="2.28" fill="none" stroke="#000" stroke-width="0.85"/>
<circle cx="73.18" cy="294.4" r="2.28" fill="none" stroke="#000" stroke-width="0.85"/>
<circle cx="103.01" cy="296.23" r="2.28" fill="none" stroke="#000" stroke-width="0.85"/>
<circle cx="132.84" cy="299.63" r="2.28" fill="none" stroke="#000" stroke-width="0.85"/>
<circle cx="162.67" cy="294.88" r="2.28" fill="none" stroke="#000" stroke-width="0.85"/>
<circle cx="192.5" cy="295.42" r="2.28" fill="none" stroke="#000" stroke-width="0.85"/>
<circle cx="222.33" cy="322.7" r="2.28" fill="none" stroke="#000" stroke-width="0.85"/>
<path d="M41.05 298.27L45.65 298.27M43.35 295.97L43.35 300.56" stroke="#383838" stroke-width="0.68" fill="none"/>
<path d="M70.89 296.91L75.48 296.91M73.18 294.62L73.18 299.21" stroke="#383838" stroke-width="0.68" fill="none"/>
<path d="M100.71 298.27L105.3 298.27M103.01 295.97L103.01 300.56" stroke="#383838" stroke-width="0.68" fill="none"/>
<path d="M130.55 300.98L135.13 300.98M132.84 298.69L132.84 303.28" stroke="#383838" stroke-width="0.68" fill="none"/>
<path d="M160.38 299.63L164.96 299.63M162.67 297.33L162.67 301.92" stroke="#383838" stroke-width="0.68" fill="none"/>
<path d="M190.2 298.27L194.79 298.27M192.5 295.97L192.5 300.56" stroke="#383838" stroke-width="0.68" fill="none"/>
<path d="M220.03 323.38L224.62 323.38M222.33 321.08L222.33 325.68" stroke="#383838" stroke-width="0.68" fill="none"/>
<path d="M46.62 294.21L52.02 294.21L49.32 299.61Z" fill="#000"/>
<path d="M76.45 291.5L81.85 291.5L79.15 296.9Z" fill="#000"/>
<path d="M106.28 291.16L111.68 291.16L108.98 296.56Z" fill="#000"/>
<path d="M136.11 296.59L141.51 296.59L138.81 301.99Z" fill="#000"/>
<path d="M165.94 296.25L171.34 296.25L168.64 301.65Z" fill="#000"/>
<path d="M195.77 293.53L201.17 293.53L198.47 298.93Z" fill="#000"/>
<path d="M225.6 316.95L231 316.95L228.3 322.35Z" fill="#000"/>
<path d="M49.32 294.8L53.12 298.61L49.32 302.42L45.51 298.61Z" fill="#000"/>
<path d="M79.15 292.43L82.95 296.23L79.15 300.04L75.34 296.23Z" fill="#000"/>
<path d="M108.98 291.75L112.78 295.55L108.98 299.36L105.17 295.55Z" fill="#000"/>
<path d="M138.81 296.84L142.61 300.64L138.81 304.45L135 300.64Z" fill="#000"/>
<path d="M168.64 296.97L172.44 300.78L168.64 304.59L164.83 300.78Z" fill="#000"/>
<path d="M198.47 293.44L202.27 297.25L198.47 301.06L194.66 297.25Z" fill="#000"/>
<path d="M228.3 316.86L232.1 320.67L228.3 324.47L224.49 320.67Z" fill="#000"/>
<path d="M47.04 288.53L51.59 288.53L49.32 293.08Z" fill="none" stroke="#000" stroke-width="0.85" stroke-linejoin="miter"/>
<path d="M76.87 286.49L81.42 286.49L79.15 291.04Z" fill="none" stroke="#000" stroke-width="0.85" stroke-linejoin="miter"/>
<path d="M106.7 287.44L111.25 287.44L108.98 291.99Z" fill="none" stroke="#000" stroke-width="0.85" stroke-linejoin="miter"/>
<path d="M136.53 293.96L141.08 293.96L138.81 298.51Z" fill="none" stroke="#000" stroke-width="0.85" stroke-linejoin="miter"/>
<path d="M166.36 289.89L170.91 289.89L168.64 294.44Z" fill="none" stroke="#000" stroke-width="0.85" stroke-linejoin="miter"/>
<path d="M196.19 287.99L200.74 287.99L198.47 292.54Z" fill="none" stroke="#000" stroke-width="0.85" stroke-linejoin="miter"/>
<path d="M226.02 318.05L230.57 318.05L228.3 322.6Z" fill="none" stroke="#000" stroke-width="0.85" stroke-linejoin="miter"/>
<path d="M49.32 289.46L52.7 292.84L49.32 296.22L45.93 292.84Z" fill="none" stroke="#000" stroke-width="0.85"/>
<path d="M79.15 287.42L82.53 290.8L79.15 294.19L75.76 290.8Z" fill="none" stroke="#000" stroke-width="0.85"/>
<path d="M108.98 288.1L112.36 291.48L108.98 294.86L105.59 291.48Z" fill="none" stroke="#000" stroke-width="0.85"/>
<path d="M138.81 294.21L142.19 297.59L138.81 300.97L135.42 297.59Z" fill="none" stroke="#000" stroke-width="0.85"/>
<path d="M168.64 291.49L172.02 294.88L168.64 298.26L165.25 294.88Z" fill="none" stroke="#000" stroke-width="0.85"/>
<path d="M198.47 289.46L201.85 292.84L198.47 296.22L195.08 292.84Z" fill="none" stroke="#000" stroke-width="0.85"/>
<path d="M228.3 317.28L231.68 320.67L228.3 324.05L224.91 320.67Z" fill="none" stroke="#000" stroke-width="0.85"/>
<rect x="27.6" y="262.3" width="209.8" height="101.8" fill="none" stroke="#3c3c3c" stroke-width="0.8"/>
<path d="M43.35 364.1v2M73.18 364.1v2M103.01 364.1v2M132.84 364.1v2M162.67 364.1v2M192.5 364.1v2M222.33 364.1v2M27.6 364.1h-2M27.6 350.53h-2M27.6 336.95h-2M27.6 323.38h-2M27.6 309.81h-2M27.6 296.23h-2M27.6 282.66h-2M27.6 269.09h-2" stroke="#151515" stroke-width="0.65" fill="none"/>
<text x="24.45" y="366.29" font-size="5.4" text-anchor="end" style="stroke-width:0.12px">0.0</text>
<text x="24.45" y="352.72" font-size="5.4" text-anchor="end" style="stroke-width:0.12px">0.2</text>
<text x="24.45" y="339.15" font-size="5.4" text-anchor="end" style="stroke-width:0.12px">0.4</text>
<text x="24.45" y="325.57" font-size="5.4" text-anchor="end" style="stroke-width:0.12px">0.6</text>
<text x="24.45" y="312" font-size="5.4" text-anchor="end" style="stroke-width:0.12px">0.8</text>
<text x="24.45" y="298.43" font-size="5.4" text-anchor="end" style="stroke-width:0.12px">1.0</text>
<text x="24.45" y="284.85" font-size="5.4" text-anchor="end" style="stroke-width:0.12px">1.2</text>
<text x="24.45" y="271.28" font-size="5.4" text-anchor="end" style="stroke-width:0.12px">1.4</text>
<text x="43.35" y="372.52" font-size="5.7" text-anchor="middle" style="stroke-width:0.12px" transform="rotate(-30 43.35 370.35)">A</text>
<text x="73.18" y="372.52" font-size="5.7" text-anchor="middle" style="stroke-width:0.12px" transform="rotate(-30 73.18 370.35)">B</text>
<text x="103.01" y="372.54" font-size="5.7" text-anchor="middle" style="stroke-width:0.12px" transform="rotate(-30 103.01 370.37)">C</text>
<text x="132.84" y="372.64" font-size="5.7" text-anchor="middle" style="stroke-width:0.12px" transform="rotate(-30 132.84 370.47)">D</text>
<text x="162.67" y="372.44" font-size="5.7" text-anchor="middle" style="stroke-width:0.12px" transform="rotate(-30 162.67 370.28)">E</text>
<text x="192.5" y="377.24" font-size="5.7" text-anchor="middle" style="stroke-width:0.12px" transform="rotate(-30 192.5 375.7)">Big Test</text>
<text x="222.33" y="379" font-size="5.7" text-anchor="middle" style="stroke-width:0.12px" transform="rotate(-30 222.33 376.84)">Small Test</text>
<text x="11.6" y="313.5" font-size="6.55" text-anchor="middle" transform="rotate(-90 11.6 313.5)">RMSEC (SVM model) (<tspan dx="1.6">°</tspan><tspan dx="-0.6"> Brix)</tspan></text>
<text x="132.5" y="394.4" font-size="6.65" text-anchor="middle">Predicted data set</text>
<path d="M313.75 262.3V364.1M343.58 262.3V364.1M373.41 262.3V364.1M403.24 262.3V364.1M433.07 262.3V364.1M462.9 262.3V364.1M492.73 262.3V364.1M298 350.53H507.8M298 336.95H507.8M298 323.38H507.8M298 309.81H507.8M298 296.23H507.8M298 282.66H507.8M298 269.09H507.8" stroke="#d2d2d2" stroke-width="0.55" fill="none"/>
<path d="M447.99 262.3V364.1" stroke="#3a3a3a" stroke-width="0.7" stroke-dasharray="2.05 0.9" fill="none"/>
<path d="M477.81 262.3V364.1" stroke="#3a3a3a" stroke-width="0.7" stroke-dasharray="2.05 0.9" fill="none"/>
<rect x="305.08" y="302.29" width="5.4" height="5.4" fill="#000"/>
<rect x="334.91" y="297.54" width="5.4" height="5.4" fill="#000"/>
<rect x="364.74" y="305.75" width="5.4" height="5.4" fill="#000"/>
<rect x="394.57" y="305.41" width="5.4" height="5.4" fill="#000"/>
<rect x="424.4" y="309.41" width="5.4" height="5.4" fill="#000"/>
<rect x="454.23" y="301.27" width="5.4" height="5.4" fill="#000"/>
<rect x="484.06" y="329.16" width="5.4" height="5.4" fill="#000"/>
<g transform="translate(307.78 315.24) rotate(45)"><rect x="-3.08" y="-0.92" width="6.16" height="1.84" fill="#000"/><rect x="-0.92" y="-3.08" width="1.84" height="6.16" fill="#000"/></g>
<g transform="translate(337.61 315.24) rotate(45)"><rect x="-3.08" y="-0.92" width="6.16" height="1.84" fill="#000"/><rect x="-0.92" y="-3.08" width="1.84" height="6.16" fill="#000"/></g>
<g transform="translate(367.44 312.52) rotate(45)"><rect x="-3.08" y="-0.92" width="6.16" height="1.84" fill="#000"/><rect x="-0.92" y="-3.08" width="1.84" height="6.16" fill="#000"/></g>
<g transform="translate(397.27 315.24) rotate(45)"><rect x="-3.08" y="-0.92" width="6.16" height="1.84" fill="#000"/><rect x="-0.92" y="-3.08" width="1.84" height="6.16" fill="#000"/></g>
<g transform="translate(427.1 316.73) rotate(45)"><rect x="-3.08" y="-0.92" width="6.16" height="1.84" fill="#000"/><rect x="-0.92" y="-3.08" width="1.84" height="6.16" fill="#000"/></g>
<g transform="translate(456.93 312.52) rotate(45)"><rect x="-3.08" y="-0.92" width="6.16" height="1.84" fill="#000"/><rect x="-0.92" y="-3.08" width="1.84" height="6.16" fill="#000"/></g>
<g transform="translate(486.76 337.63) rotate(45)"><rect x="-3.08" y="-0.92" width="6.16" height="1.84" fill="#000"/><rect x="-0.92" y="-3.08" width="1.84" height="6.16" fill="#000"/></g>
<rect x="305.51" y="317.58" width="4.55" height="4.55" fill="none" stroke="#000" stroke-width="0.85"/>
<rect x="335.34" y="320.29" width="4.55" height="4.55" fill="none" stroke="#000" stroke-width="0.85"/>
<rect x="365.17" y="319.41" width="4.55" height="4.55" fill="none" stroke="#000" stroke-width="0.85"/>
<rect x="395" y="324.36" width="4.55" height="4.55" fill="none" stroke="#000" stroke-width="0.85"/>
<rect x="424.83" y="318.05" width="4.55" height="4.55" fill="none" stroke="#000" stroke-width="0.85"/>
<rect x="454.66" y="321.51" width="4.55" height="4.55" fill="none" stroke="#000" stroke-width="0.85"/>
<rect x="484.49" y="331.29" width="4.55" height="4.55" fill="none" stroke="#000" stroke-width="0.85"/>
<path d="M305.52 321.79L310.05 326.33M305.52 326.33L310.05 321.79" stroke="#000" stroke-width="1" fill="none"/>
<path d="M335.35 323.49L339.88 328.02M335.35 328.02L339.88 323.49" stroke="#000" stroke-width="1" fill="none"/>
<path d="M365.18 322.61L369.71 327.14M365.18 327.14L369.71 322.61" stroke="#000" stroke-width="1" fill="none"/>
<path d="M395.01 328.1L399.54 332.64M395.01 332.64L399.54 328.1" stroke="#000" stroke-width="1" fill="none"/>
<path d="M424.84 325.05L429.37 329.58M424.84 329.58L429.37 325.05" stroke="#000" stroke-width="1" fill="none"/>
<path d="M454.67 326.2L459.2 330.74M454.67 330.74L459.2 326.2" stroke="#000" stroke-width="1" fill="none"/>
<path d="M484.5 331.97L489.03 336.51M484.5 336.51L489.03 331.97" stroke="#000" stroke-width="1" fill="none"/>
<circle cx="313.75" cy="323.04" r="2.7" fill="#000"/>
<circle cx="343.58" cy="324.87" r="2.7" fill="#000"/>
<circle cx="373.41" cy="325.76" r="2.7" fill="#000"/>
<circle cx="403.24" cy="327.79" r="2.7" fill="#000"/>
<circle cx="433.07" cy="326.77" r="2.7" fill="#000"/>
<circle cx="462.9" cy="325.01" r="2.7" fill="#000"/>
<circle cx="492.73" cy="338.79" r="2.7" fill="#000"/>
<rect x="311.05" y="326.53" width="5.4" height="1.84" fill="#000"/><rect x="312.83" y="324.75" width="1.84" height="5.4" fill="#000"/>
<rect x="340.88" y="327.48" width="5.4" height="1.84" fill="#000"/><rect x="342.66" y="325.7" width="1.84" height="5.4" fill="#000"/>
<rect x="370.71" y="328.3" width="5.4" height="1.84" fill="#000"/><rect x="372.49" y="326.52" width="1.84" height="5.4" fill="#000"/>
<rect x="400.54" y="329.93" width="5.4" height="1.84" fill="#000"/><rect x="402.32" y="328.15" width="1.84" height="5.4" fill="#000"/>
<rect x="430.37" y="325.86" width="5.4" height="1.84" fill="#000"/><rect x="432.15" y="324.07" width="1.84" height="5.4" fill="#000"/>
<rect x="460.2" y="325.86" width="5.4" height="1.84" fill="#000"/><rect x="461.98" y="324.07" width="1.84" height="5.4" fill="#000"/>
<rect x="490.03" y="337.73" width="5.4" height="1.84" fill="#000"/><rect x="491.81" y="335.95" width="1.84" height="5.4" fill="#000"/>
<circle cx="313.75" cy="316.05" r="2.28" fill="none" stroke="#000" stroke-width="0.85"/>
<circle cx="343.58" cy="316.39" r="2.28" fill="none" stroke="#000" stroke-width="0.85"/>
<circle cx="373.41" cy="317.48" r="2.28" fill="none" stroke="#000" stroke-width="0.85"/>
<circle cx="403.24" cy="322.7" r="2.28" fill="none" stroke="#000" stroke-width="0.85"/>
<circle cx="433.07" cy="315.64" r="2.28" fill="none" stroke="#000" stroke-width="0.85"/>
<circle cx="462.9" cy="314.9" r="2.28" fill="none" stroke="#000" stroke-width="0.85"/>
<circle cx="492.73" cy="338.31" r="2.28" fill="none" stroke="#000" stroke-width="0.85"/>
<path d="M311.45 324.74L316.05 324.74M313.75 322.44L313.75 327.03" stroke="#383838" stroke-width="0.68" fill="none"/>
<path d="M341.28 322.02L345.88 322.02M343.58 319.73L343.58 324.32" stroke="#383838" stroke-width="0.68" fill="none"/>
<path d="M371.11 326.09L375.7 326.09M373.41 323.8L373.41 328.39" stroke="#383838" stroke-width="0.68" fill="none"/>
<path d="M400.94 326.77L405.54 326.77M403.24 324.48L403.24 329.07" stroke="#383838" stroke-width="0.68" fill="none"/>
<path d="M430.77 320.67L435.37 320.67M433.07 318.37L433.07 322.96" stroke="#383838" stroke-width="0.68" fill="none"/>
<path d="M460.6 325.42L465.19 325.42M462.9 323.12L462.9 327.71" stroke="#383838" stroke-width="0.68" fill="none"/>
<path d="M490.44 338.31L495.03 338.31M492.73 336.02L492.73 340.61" stroke="#383838" stroke-width="0.68" fill="none"/>
<path d="M317.02 326.11L322.42 326.11L319.72 331.51Z" fill="#000"/>
<path d="M346.85 325.43L352.25 325.43L349.55 330.83Z" fill="#000"/>
<path d="M376.68 327.47L382.08 327.47L379.38 332.87Z" fill="#000"/>
<path d="M406.51 329.5L411.91 329.5L409.21 334.9Z" fill="#000"/>
<path d="M436.34 328.82L441.74 328.82L439.04 334.22Z" fill="#000"/>
<path d="M466.17 329.16L471.57 329.16L468.87 334.56Z" fill="#000"/>
<path d="M496 329.5L501.4 329.5L498.7 334.9Z" fill="#000"/>
<path d="M319.72 327.04L323.52 330.85L319.72 334.65L315.91 330.85Z" fill="#000"/>
<path d="M349.55 327.45L353.35 331.25L349.55 335.06L345.74 331.25Z" fill="#000"/>
<path d="M379.38 328.53L383.18 332.34L379.38 336.15L375.57 332.34Z" fill="#000"/>
<path d="M409.21 330.97L413.01 334.78L409.21 338.59L405.4 334.78Z" fill="#000"/>
<path d="M439.04 329.35L442.84 333.15L439.04 336.96L435.23 333.15Z" fill="#000"/>
<path d="M468.87 329.75L472.67 333.56L468.87 337.37L465.06 333.56Z" fill="#000"/>
<path d="M498.7 329.41L502.5 333.22L498.7 337.03L494.89 333.22Z" fill="#000"/>
<path d="M317.44 321.78L321.99 321.78L319.72 326.33Z" fill="none" stroke="#000" stroke-width="0.85" stroke-linejoin="miter"/>
<path d="M347.27 321.11L351.82 321.11L349.55 325.65Z" fill="none" stroke="#000" stroke-width="0.85" stroke-linejoin="miter"/>
<path d="M377.1 319.95L381.65 319.95L379.38 324.5Z" fill="none" stroke="#000" stroke-width="0.85" stroke-linejoin="miter"/>
<path d="M406.93 325.18L411.48 325.18L409.21 329.73Z" fill="none" stroke="#000" stroke-width="0.85" stroke-linejoin="miter"/>
<path d="M436.76 316.9L441.31 316.9L439.04 321.45Z" fill="none" stroke="#000" stroke-width="0.85" stroke-linejoin="miter"/>
<path d="M466.59 321.78L471.14 321.78L468.87 326.33Z" fill="none" stroke="#000" stroke-width="0.85" stroke-linejoin="miter"/>
<path d="M496.42 327.69L500.97 327.69L498.7 332.24Z" fill="none" stroke="#000" stroke-width="0.85" stroke-linejoin="miter"/>
<path d="M319.72 323.05L323.1 326.43L319.72 329.82L316.33 326.43Z" fill="none" stroke="#000" stroke-width="0.85"/>
<path d="M349.55 321.69L352.93 325.08L349.55 328.46L346.16 325.08Z" fill="none" stroke="#000" stroke-width="0.85"/>
<path d="M379.38 322.37L382.76 325.76L379.38 329.14L375.99 325.76Z" fill="none" stroke="#000" stroke-width="0.85"/>
<path d="M409.21 324.75L412.59 328.13L409.21 331.51L405.82 328.13Z" fill="none" stroke="#000" stroke-width="0.85"/>
<path d="M439.04 323.39L442.42 326.77L439.04 330.16L435.65 326.77Z" fill="none" stroke="#000" stroke-width="0.85"/>
<path d="M468.87 321.49L472.25 324.87L468.87 328.26L465.48 324.87Z" fill="none" stroke="#000" stroke-width="0.85"/>
<path d="M498.7 328.14L502.08 331.52L498.7 334.91L495.31 331.52Z" fill="none" stroke="#000" stroke-width="0.85"/>
<rect x="298" y="262.3" width="209.8" height="101.8" fill="none" stroke="#3c3c3c" stroke-width="0.8"/>
<path d="M313.75 364.1v2M343.58 364.1v2M373.41 364.1v2M403.24 364.1v2M433.07 364.1v2M462.9 364.1v2M492.73 364.1v2M298 364.1h-2M298 350.53h-2M298 336.95h-2M298 323.38h-2M298 309.81h-2M298 296.23h-2M298 282.66h-2M298 269.09h-2" stroke="#151515" stroke-width="0.65" fill="none"/>
<text x="294.85" y="366.29" font-size="5.4" text-anchor="end" style="stroke-width:0.12px">0.0</text>
<text x="294.85" y="352.72" font-size="5.4" text-anchor="end" style="stroke-width:0.12px">0.2</text>
<text x="294.85" y="339.15" font-size="5.4" text-anchor="end" style="stroke-width:0.12px">0.4</text>
<text x="294.85" y="325.57" font-size="5.4" text-anchor="end" style="stroke-width:0.12px">0.6</text>
<text x="294.85" y="312" font-size="5.4" text-anchor="end" style="stroke-width:0.12px">0.8</text>
<text x="294.85" y="298.43" font-size="5.4" text-anchor="end" style="stroke-width:0.12px">1.0</text>
<text x="294.85" y="284.85" font-size="5.4" text-anchor="end" style="stroke-width:0.12px">1.2</text>
<text x="294.85" y="271.28" font-size="5.4" text-anchor="end" style="stroke-width:0.12px">1.4</text>
<text x="313.75" y="372.52" font-size="5.7" text-anchor="middle" style="stroke-width:0.12px" transform="rotate(-30 313.75 370.35)">A</text>
<text x="343.58" y="372.52" font-size="5.7" text-anchor="middle" style="stroke-width:0.12px" transform="rotate(-30 343.58 370.35)">B</text>
<text x="373.41" y="372.54" font-size="5.7" text-anchor="middle" style="stroke-width:0.12px" transform="rotate(-30 373.41 370.37)">C</text>
<text x="403.24" y="372.64" font-size="5.7" text-anchor="middle" style="stroke-width:0.12px" transform="rotate(-30 403.24 370.47)">D</text>
<text x="433.07" y="372.44" font-size="5.7" text-anchor="middle" style="stroke-width:0.12px" transform="rotate(-30 433.07 370.28)">E</text>
<text x="462.9" y="377.24" font-size="5.7" text-anchor="middle" style="stroke-width:0.12px" transform="rotate(-30 462.9 375.7)">Big Test</text>
<text x="492.73" y="379" font-size="5.7" text-anchor="middle" style="stroke-width:0.12px" transform="rotate(-30 492.73 376.84)">Small Test</text>
<text x="282" y="313.5" font-size="6.55" text-anchor="middle" transform="rotate(-90 282 313.5)">RMSEC (MLP model) (<tspan dx="1.6">°</tspan><tspan dx="-0.6"> Brix)</tspan></text>
<text x="402.9" y="394.4" font-size="6.65" text-anchor="middle">Predicted subset</text>
<clipPath id="clip28"><rect x="28" y="414.8" width="204.6" height="99.3"/></clipPath>
<path d="M37.4 414.8V514.1M54.3 414.8V514.1M71.2 414.8V514.1M88.1 414.8V514.1M105 414.8V514.1M121.9 414.8V514.1M138.8 414.8V514.1M155.7 414.8V514.1M172.6 414.8V514.1M189.5 414.8V514.1M206.4 414.8V514.1M223.3 414.8V514.1M28 508.58H232.6M28 497.55H232.6M28 486.52H232.6M28 475.48H232.6M28 464.45H232.6M28 453.42H232.6M28 442.38H232.6M28 431.35H232.6M28 420.32H232.6" stroke="#d2d2d2" stroke-width="0.55" fill="none"/>
<path d="M96.55 414.8V514.1" stroke="#505050" stroke-width="0.8" fill="none"/>
<path d="M164.15 414.8V514.1" stroke="#505050" stroke-width="0.8" fill="none"/>
<g clip-path="url(#clip28)">
<path d="M37.4 443.49V452.09M37.4 490.76V494.79M54.3 493.25V497M71.2 491.15V493.96M105 451.87V461.69M105 502.85V507.04M121.9 460.09V465.88M121.9 504.83V507.48M172.6 503.07V504.72M189.5 452.31V455.18M206.4 472.95V473.28M223.3 498.65V498.98" stroke="#333" stroke-width="0.5" fill="none"/>
<path d="M35.5 443.49h3.8M35.5 494.79h3.8M52.4 464.84h3.8M52.4 497h3.8M69.3 471.51h3.8M69.3 493.96h3.8M86.2 480.34h3.8M86.2 497.05h3.8M103.1 451.87h3.8M103.1 507.04h3.8M120 460.09h3.8M120 507.48h3.8M136.9 475.92h3.8M136.9 495.56h3.8M153.8 483.92h3.8M153.8 501.25h3.8M170.7 457.66h3.8M170.7 504.72h3.8M187.6 452.31h3.8M187.6 497.27h3.8M204.5 472.95h3.8M221.4 474.93h3.8M221.4 498.98h3.8" stroke="#000" stroke-width="0.9" fill="none"/>
<circle cx="37.4" cy="468.7" r="2.9" fill="#000"/>
<circle cx="54.3" cy="480.61" r="2.9" fill="#000"/>
<circle cx="71.2" cy="482.66" r="2.9" fill="#000"/>
<circle cx="88.1" cy="488.83" r="2.9" fill="#000"/>
<circle cx="105" cy="480.34" r="2.9" fill="#000"/>
<circle cx="121.9" cy="484.25" r="2.9" fill="#000"/>
<circle cx="138.8" cy="485.25" r="2.9" fill="#000"/>
<circle cx="155.7" cy="492.75" r="2.9" fill="#000"/>
<circle cx="172.6" cy="481" r="2.9" fill="#000"/>
<circle cx="189.5" cy="474.82" r="2.9" fill="#000"/>
<circle cx="206.4" cy="485.97" r="2.9" fill="#000"/>
<circle cx="223.3" cy="487.07" r="2.9" fill="#000"/>
<path d="M37.4 452.09V490.76M54.3 462.52V493.25M71.2 467.93V491.15M88.1 472.23V497.55M105 461.69V502.85M121.9 465.88V504.83M138.8 470.74V498.93M155.7 474.93V502.85M172.6 457.66V503.07M189.5 455.18V499.98M206.4 473.28V498.1M223.3 473.5V498.65" stroke="#a0a0a0" stroke-width="0.6" fill="none"/>
<path d="M35.5 452.09h3.8M35.5 490.76h3.8M52.4 462.52h3.8M52.4 493.25h3.8M69.3 467.93h3.8M69.3 491.15h3.8M86.2 472.23h3.8M86.2 497.55h3.8M103.1 461.69h3.8M103.1 502.85h3.8M120 465.88h3.8M120 504.83h3.8M136.9 470.74h3.8M136.9 498.93h3.8M153.8 474.93h3.8M153.8 502.85h3.8M170.7 503.07h3.8M187.6 455.18h3.8M187.6 499.98h3.8M204.5 498.1h3.8M221.4 473.5h3.8" stroke="#a0a0a0" stroke-width="0.8" fill="none"/>
<circle cx="37.4" cy="471.07" r="2.55" fill="#fff" stroke="#000" stroke-width="0.7"/>
<circle cx="54.3" cy="478.02" r="2.55" fill="#fff" stroke="#000" stroke-width="0.7"/>
<circle cx="71.2" cy="480.83" r="2.55" fill="#fff" stroke="#000" stroke-width="0.7"/>
<circle cx="88.1" cy="485.41" r="2.55" fill="#fff" stroke="#000" stroke-width="0.7"/>
<circle cx="105" cy="481.83" r="2.55" fill="#fff" stroke="#000" stroke-width="0.7"/>
<circle cx="121.9" cy="485.25" r="2.55" fill="#fff" stroke="#000" stroke-width="0.7"/>
<circle cx="138.8" cy="485.25" r="2.55" fill="#fff" stroke="#000" stroke-width="0.7"/>
<circle cx="155.7" cy="488.83" r="2.55" fill="#fff" stroke="#000" stroke-width="0.7"/>
<circle cx="172.6" cy="481.22" r="2.55" fill="#fff" stroke="#000" stroke-width="0.7"/>
<circle cx="189.5" cy="477.75" r="2.55" fill="#fff" stroke="#000" stroke-width="0.7"/>
<circle cx="206.4" cy="485.14" r="2.55" fill="#fff" stroke="#000" stroke-width="0.7"/>
<circle cx="223.3" cy="485.63" r="2.55" fill="#fff" stroke="#000" stroke-width="0.7"/>
</g>
<rect x="175.5" y="416.8" width="55" height="14.6" fill="#fff" fill-opacity="0.8"/>
<circle cx="179.9" cy="422.2" r="2.9" fill="#000"/>
<text x="190.2" y="424.18" font-size="5.5" text-anchor="start">No Chl bands</text>
<circle cx="179.9" cy="430.3" r="2.55" fill="#fff" stroke="#000" stroke-width="0.7"/>
<text x="190.2" y="432.28" font-size="5.5" text-anchor="start">Full spectrum</text>
<rect x="28" y="414.8" width="204.6" height="99.3" fill="none" stroke="#3c3c3c" stroke-width="0.8"/>
<path d="M37.4 514.1v2M54.3 514.1v2M71.2 514.1v2M88.1 514.1v2M105 514.1v2M121.9 514.1v2M138.8 514.1v2M155.7 514.1v2M172.6 514.1v2M189.5 514.1v2M206.4 514.1v2M223.3 514.1v2M28 508.58h-2M28 497.55h-2M28 486.52h-2M28 475.48h-2M28 464.45h-2M28 453.42h-2M28 442.38h-2M28 431.35h-2M28 420.32h-2" stroke="#151515" stroke-width="0.65" fill="none"/>
<text x="24.85" y="510.78" font-size="5.4" text-anchor="end" style="stroke-width:0.12px">0.8</text>
<text x="24.85" y="499.74" font-size="5.4" text-anchor="end" style="stroke-width:0.12px">1.0</text>
<text x="24.85" y="488.71" font-size="5.4" text-anchor="end" style="stroke-width:0.12px">1.2</text>
<text x="24.85" y="477.68" font-size="5.4" text-anchor="end" style="stroke-width:0.12px">1.4</text>
<text x="24.85" y="466.64" font-size="5.4" text-anchor="end" style="stroke-width:0.12px">1.6</text>
<text x="24.85" y="455.61" font-size="5.4" text-anchor="end" style="stroke-width:0.12px">1.8</text>
<text x="24.85" y="444.58" font-size="5.4" text-anchor="end" style="stroke-width:0.12px">2.0</text>
<text x="24.85" y="433.54" font-size="5.4" text-anchor="end" style="stroke-width:0.12px">2.2</text>
<text x="24.85" y="422.51" font-size="5.4" text-anchor="end" style="stroke-width:0.12px">2.4</text>
<text x="37.4" y="524.06" font-size="5.7" text-anchor="middle" style="stroke-width:0.12px" transform="rotate(-30 37.4 521.9)">abs</text>
<text x="54.3" y="524.97" font-size="5.7" text-anchor="middle" style="stroke-width:0.12px" transform="rotate(-30 54.3 522.8)">abs2</text>
<text x="71.2" y="527.18" font-size="5.7" text-anchor="middle" style="stroke-width:0.12px" transform="rotate(-30 71.2 525.64)">abs_snv</text>
<text x="88.1" y="528.09" font-size="5.7" text-anchor="middle" style="stroke-width:0.12px" transform="rotate(-30 88.1 526.55)">abs_snv2</text>
<text x="105" y="525.87" font-size="5.7" text-anchor="middle" style="stroke-width:0.12px" transform="rotate(-30 105 523.71)">abs1d</text>
<text x="121.9" y="526.78" font-size="5.7" text-anchor="middle" style="stroke-width:0.12px" transform="rotate(-30 121.9 524.61)">abs1d2</text>
<text x="138.8" y="528.99" font-size="5.7" text-anchor="middle" style="stroke-width:0.12px" transform="rotate(-30 138.8 527.45)">abs1d_snv</text>
<text x="155.7" y="529.9" font-size="5.7" text-anchor="middle" style="stroke-width:0.12px" transform="rotate(-30 155.7 528.36)">abs1d_snv2</text>
<text x="172.6" y="525.87" font-size="5.7" text-anchor="middle" style="stroke-width:0.12px" transform="rotate(-30 172.6 523.71)">abs2d</text>
<text x="189.5" y="526.78" font-size="5.7" text-anchor="middle" style="stroke-width:0.12px" transform="rotate(-30 189.5 524.61)">abs2d2</text>
<text x="206.4" y="528.99" font-size="5.7" text-anchor="middle" style="stroke-width:0.12px" transform="rotate(-30 206.4 527.45)">abs2d_snv</text>
<text x="223.3" y="529.9" font-size="5.7" text-anchor="middle" style="stroke-width:0.12px" transform="rotate(-30 223.3 528.36)">abs2d_snv2</text>
<text x="12.5" y="464.45" font-size="6.85" text-anchor="middle" transform="rotate(-90 12.5 464.45)">EV Mean RMSEP (<tspan dx="1.6">°</tspan><tspan dx="-0.6"> Brix)</tspan></text>
<text x="130.2" y="545.6" font-size="7.0" text-anchor="middle">Variable</text>
<clipPath id="clip298"><rect x="298.3" y="414.8" width="204.5" height="99.3"/></clipPath>
<path d="M307.7 414.8V514.1M324.6 414.8V514.1M341.5 414.8V514.1M358.4 414.8V514.1M375.3 414.8V514.1M392.2 414.8V514.1M409.1 414.8V514.1M426 414.8V514.1M442.9 414.8V514.1M459.8 414.8V514.1M476.7 414.8V514.1M493.6 414.8V514.1M298.3 502.42H502.8M298.3 490.74H502.8M298.3 479.05H502.8M298.3 467.37H502.8M298.3 455.69H502.8M298.3 444.01H502.8M298.3 432.32H502.8M298.3 420.64H502.8" stroke="#d2d2d2" stroke-width="0.55" fill="none"/>
<path d="M366.85 414.8V514.1" stroke="#505050" stroke-width="0.8" fill="none"/>
<path d="M434.45 414.8V514.1" stroke="#505050" stroke-width="0.8" fill="none"/>
<g clip-path="url(#clip298)">
<path d="M307.7 429.99V439.92M307.7 504.64V507.44M324.6 455.1V460.36M341.5 468.71V475.2M358.4 482.67V484.89M358.4 495.7V497.92M409.1 471.46V474.38M426 482.67V483.73M459.8 431.86V446.34M476.7 463.98V466.2M493.6 468.83V470.88" stroke="#333" stroke-width="0.5" fill="none"/>
<path d="M305.8 429.99h3.8M305.8 507.44h3.8M322.7 455.1h3.8M322.7 510.48h3.8M339.6 468.71h3.8M339.6 490.5h3.8M356.5 482.67h3.8M356.5 497.92h3.8M373.4 430.57h3.8M373.4 507.67h3.8M390.3 447.28h3.8M390.3 514.1h3.8M407.2 471.46h3.8M407.2 486.41h3.8M424.1 482.67h3.8M424.1 494.24h3.8M441 505.34h3.8M457.9 431.86h3.8M457.9 510.3h3.8M474.8 463.98h3.8M474.8 486.65h3.8M491.7 468.83h3.8M491.7 491.61h3.8" stroke="#000" stroke-width="0.9" fill="none"/>
<circle cx="307.7" cy="468.31" r="2.9" fill="#000"/>
<circle cx="324.6" cy="482.67" r="2.9" fill="#000"/>
<circle cx="341.5" cy="479.29" r="2.9" fill="#000"/>
<circle cx="358.4" cy="490.15" r="2.9" fill="#000"/>
<circle cx="375.3" cy="468.71" r="2.9" fill="#000"/>
<circle cx="392.2" cy="480.45" r="2.9" fill="#000"/>
<circle cx="409.1" cy="479.05" r="2.9" fill="#000"/>
<circle cx="426" cy="488.63" r="2.9" fill="#000"/>
<circle cx="442.9" cy="468.54" r="2.9" fill="#000"/>
<circle cx="459.8" cy="471.11" r="2.9" fill="#000"/>
<circle cx="476.7" cy="475.55" r="2.9" fill="#000"/>
<circle cx="493.6" cy="480.4" r="2.9" fill="#000"/>
<path d="M307.7 439.92V504.64M324.6 460.36V515.27M341.5 475.2V491.9M358.4 484.89V495.7M375.3 425.9V511M392.2 444.59V517.6M409.1 474.38V489.57M426 483.73V504.46M442.9 432.03V512.35M459.8 446.34V515.27M476.7 466.2V489.57M493.6 470.88V494.82" stroke="#a0a0a0" stroke-width="0.6" fill="none"/>
<path d="M305.8 439.92h3.8M305.8 504.64h3.8M322.7 460.36h3.8M322.7 515.27h3.8M339.6 475.2h3.8M339.6 491.9h3.8M356.5 484.89h3.8M356.5 495.7h3.8M373.4 425.9h3.8M373.4 511h3.8M390.3 444.59h3.8M390.3 517.6h3.8M407.2 474.38h3.8M407.2 489.57h3.8M424.1 483.73h3.8M424.1 504.46h3.8M441 432.03h3.8M441 512.35h3.8M457.9 446.34h3.8M457.9 515.27h3.8M474.8 466.2h3.8M474.8 489.57h3.8M491.7 470.88h3.8M491.7 494.82h3.8" stroke="#a0a0a0" stroke-width="0.8" fill="none"/>
<circle cx="307.7" cy="472.39" r="2.55" fill="#fff" stroke="#000" stroke-width="0.7"/>
<circle cx="324.6" cy="485.48" r="2.55" fill="#fff" stroke="#000" stroke-width="0.7"/>
<circle cx="341.5" cy="483.61" r="2.55" fill="#fff" stroke="#000" stroke-width="0.7"/>
<circle cx="358.4" cy="490.74" r="2.55" fill="#fff" stroke="#000" stroke-width="0.7"/>
<circle cx="375.3" cy="468.71" r="2.55" fill="#fff" stroke="#000" stroke-width="0.7"/>
<circle cx="392.2" cy="481.16" r="2.55" fill="#fff" stroke="#000" stroke-width="0.7"/>
<circle cx="409.1" cy="480.81" r="2.55" fill="#fff" stroke="#000" stroke-width="0.7"/>
<circle cx="426" cy="494.24" r="2.55" fill="#fff" stroke="#000" stroke-width="0.7"/>
<circle cx="442.9" cy="472.98" r="2.55" fill="#fff" stroke="#000" stroke-width="0.7"/>
<circle cx="459.8" cy="479.05" r="2.55" fill="#fff" stroke="#000" stroke-width="0.7"/>
<circle cx="476.7" cy="480.4" r="2.55" fill="#fff" stroke="#000" stroke-width="0.7"/>
<circle cx="493.6" cy="485.6" r="2.55" fill="#fff" stroke="#000" stroke-width="0.7"/>
</g>
<rect x="445.8" y="416.8" width="55" height="14.6" fill="#fff" fill-opacity="0.8"/>
<circle cx="450.2" cy="422.2" r="2.9" fill="#000"/>
<text x="460.5" y="424.18" font-size="5.5" text-anchor="start">No Chl bands</text>
<circle cx="450.2" cy="430.3" r="2.55" fill="#fff" stroke="#000" stroke-width="0.7"/>
<text x="460.5" y="432.28" font-size="5.5" text-anchor="start">Full spectrum</text>
<rect x="298.3" y="414.8" width="204.5" height="99.3" fill="none" stroke="#3c3c3c" stroke-width="0.8"/>
<path d="M307.7 514.1v2M324.6 514.1v2M341.5 514.1v2M358.4 514.1v2M375.3 514.1v2M392.2 514.1v2M409.1 514.1v2M426 514.1v2M442.9 514.1v2M459.8 514.1v2M476.7 514.1v2M493.6 514.1v2M298.3 514.1h-2M298.3 502.42h-2M298.3 490.74h-2M298.3 479.05h-2M298.3 467.37h-2M298.3 455.69h-2M298.3 444.01h-2M298.3 432.32h-2M298.3 420.64h-2" stroke="#151515" stroke-width="0.65" fill="none"/>
<text x="295.15" y="516.29" font-size="5.4" text-anchor="end" style="stroke-width:0.12px">0.8</text>
<text x="295.15" y="504.61" font-size="5.4" text-anchor="end" style="stroke-width:0.12px">1.0</text>
<text x="295.15" y="492.93" font-size="5.4" text-anchor="end" style="stroke-width:0.12px">1.2</text>
<text x="295.15" y="481.25" font-size="5.4" text-anchor="end" style="stroke-width:0.12px">1.4</text>
<text x="295.15" y="469.56" font-size="5.4" text-anchor="end" style="stroke-width:0.12px">1.6</text>
<text x="295.15" y="457.88" font-size="5.4" text-anchor="end" style="stroke-width:0.12px">1.8</text>
<text x="295.15" y="446.2" font-size="5.4" text-anchor="end" style="stroke-width:0.12px">2.0</text>
<text x="295.15" y="434.52" font-size="5.4" text-anchor="end" style="stroke-width:0.12px">2.2</text>
<text x="295.15" y="422.84" font-size="5.4" text-anchor="end" style="stroke-width:0.12px">2.4</text>
<text x="307.7" y="524.06" font-size="5.7" text-anchor="middle" style="stroke-width:0.12px" transform="rotate(-30 307.7 521.9)">abs</text>
<text x="324.6" y="524.97" font-size="5.7" text-anchor="middle" style="stroke-width:0.12px" transform="rotate(-30 324.6 522.8)">abs2</text>
<text x="341.5" y="527.18" font-size="5.7" text-anchor="middle" style="stroke-width:0.12px" transform="rotate(-30 341.5 525.64)">abs_snv</text>
<text x="358.4" y="528.09" font-size="5.7" text-anchor="middle" style="stroke-width:0.12px" transform="rotate(-30 358.4 526.55)">abs_snv2</text>
<text x="375.3" y="525.87" font-size="5.7" text-anchor="middle" style="stroke-width:0.12px" transform="rotate(-30 375.3 523.71)">abs1d</text>
<text x="392.2" y="526.78" font-size="5.7" text-anchor="middle" style="stroke-width:0.12px" transform="rotate(-30 392.2 524.61)">abs1d2</text>
<text x="409.1" y="528.99" font-size="5.7" text-anchor="middle" style="stroke-width:0.12px" transform="rotate(-30 409.1 527.45)">abs1d_snv</text>
<text x="426" y="529.9" font-size="5.7" text-anchor="middle" style="stroke-width:0.12px" transform="rotate(-30 426 528.36)">abs1d_snv2</text>
<text x="442.9" y="525.87" font-size="5.7" text-anchor="middle" style="stroke-width:0.12px" transform="rotate(-30 442.9 523.71)">abs2d</text>
<text x="459.8" y="526.78" font-size="5.7" text-anchor="middle" style="stroke-width:0.12px" transform="rotate(-30 459.8 524.61)">abs2d2</text>
<text x="476.7" y="528.99" font-size="5.7" text-anchor="middle" style="stroke-width:0.12px" transform="rotate(-30 476.7 527.45)">abs2d_snv</text>
<text x="493.6" y="529.9" font-size="5.7" text-anchor="middle" style="stroke-width:0.12px" transform="rotate(-30 493.6 528.36)">abs2d_snv2</text>
<text x="282.8" y="464.45" font-size="6.85" text-anchor="middle" transform="rotate(-90 282.8 464.45)">EV Mean RMSEP (<tspan dx="1.6">°</tspan><tspan dx="-0.6"> Brix)</tspan></text>
<text x="400.45" y="545.6" font-size="7.0" text-anchor="middle">Variable</text>
</svg>
</body>
</html>
